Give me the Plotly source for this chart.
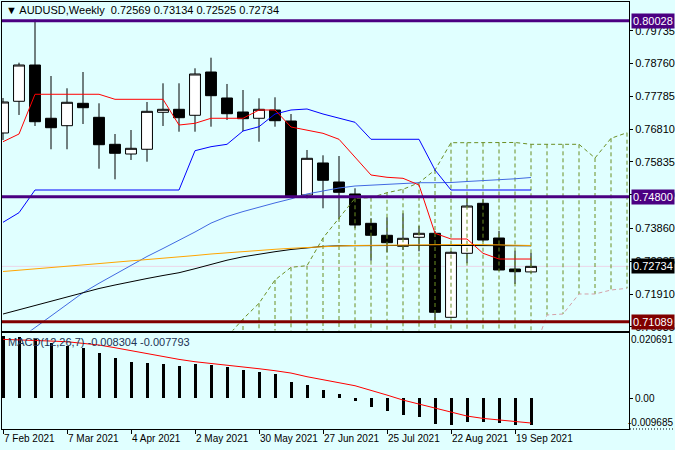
import plotly.graph_objects as go
import pandas as pd

# ---------------- data ----------------
week_start = "2021-02-07"          # first visible weekly bar
n_ahead = 6                         # cloud bars drawn beyond the last candle

opens = [0.76696, 0.77638, 0.78716, 0.77133, 0.76913, 0.77578, 0.77162, 0.76360, 0.76072, 0.76212,
         0.77311, 0.77400, 0.77222, 0.78508, 0.77736, 0.77320, 0.77133, 0.77379, 0.77052, 0.74854,
         0.75805, 0.75240, 0.74884, 0.74013, 0.73657, 0.73330, 0.73597, 0.73716, 0.71220, 0.73122,
         0.74607, 0.73576, 0.72655, 0.72569]
highs = [0.77736, 0.78784, 0.80070, 0.78389, 0.78024, 0.78508, 0.77578, 0.76666, 0.76785, 0.77617,
         0.78172, 0.78172, 0.78618, 0.78933, 0.78152, 0.77973, 0.77727, 0.77756, 0.77260, 0.76191,
         0.76033, 0.76012, 0.75053, 0.74162, 0.74191, 0.74310, 0.73933, 0.73784, 0.73190, 0.74803,
         0.74726, 0.73784, 0.73199, 0.73134]
lows = [0.76488, 0.77231, 0.76904, 0.76212, 0.76212, 0.76963, 0.75635, 0.75320, 0.75894, 0.75843,
        0.76904, 0.76734, 0.76734, 0.76883, 0.77082, 0.76755, 0.76437, 0.76883, 0.74765, 0.74756,
        0.74459, 0.74132, 0.73865, 0.72902, 0.73152, 0.73220, 0.73181, 0.71051, 0.71200, 0.72825,
        0.73466, 0.72596, 0.72210, 0.72525]
closes = [0.77617, 0.78716, 0.77031, 0.76853, 0.77608, 0.77447, 0.76348, 0.76093, 0.76241, 0.77340,
          0.77400, 0.77150, 0.78449, 0.77804, 0.77269, 0.77121, 0.77400, 0.77061, 0.74786, 0.75944,
          0.75291, 0.74934, 0.73963, 0.73657, 0.73437, 0.73567, 0.73716, 0.71369, 0.73152, 0.74527,
          0.73517, 0.72626, 0.72575, 0.72734]

tenkan = [0.76437, 0.76666, 0.77846, 0.77846, 0.77846, 0.77846, 0.77846, 0.77697, 0.77697, 0.77697,
          0.77697, 0.76933, 0.76984, 0.77133, 0.77133, 0.77133, 0.77379, 0.77379, 0.76874, 0.76785,
          0.76687, 0.76509, 0.75983, 0.75448, 0.75380, 0.75350, 0.75151, 0.73716, 0.73547, 0.73547,
          0.73122, 0.72952, 0.72952, 0.72952]
kijun = [0.74043, 0.74328, 0.75002, 0.75002, 0.75002, 0.75002, 0.75002, 0.75002, 0.75002, 0.75002,
         0.75002, 0.75002, 0.76170, 0.76289, 0.76360, 0.76755, 0.76883, 0.77260, 0.77379, 0.77409,
         0.77260, 0.77133, 0.77014, 0.76509, 0.76509, 0.76509, 0.76509, 0.75597, 0.75002, 0.75002,
         0.75002, 0.75002, 0.75002, 0.75002]
ma_blue = [0.70219, 0.70576, 0.70915, 0.71259, 0.71607, 0.71951, 0.72231, 0.72504, 0.72771, 0.73027,
           0.73264, 0.73502, 0.73755, 0.74019, 0.74215, 0.74361, 0.74500, 0.74619, 0.74738, 0.74884,
           0.74973, 0.75062, 0.75121, 0.75151, 0.75181, 0.75204, 0.75219, 0.75219, 0.75225, 0.75255,
           0.75279, 0.75314, 0.75335, 0.75374]
ma_orange = [0.72581, 0.72617, 0.72655, 0.72694, 0.72733, 0.72774, 0.72816, 0.72857, 0.72893, 0.72929,
             0.72967, 0.73012, 0.73056, 0.73101, 0.73140, 0.73178, 0.73211, 0.73241, 0.73270, 0.73300,
             0.73321, 0.73339, 0.73354, 0.73362, 0.73368, 0.73374, 0.73380, 0.73386, 0.73389, 0.73386,
             0.73380, 0.73371, 0.73362, 0.73354]
ma_black = [0.71318, 0.71446, 0.71571, 0.71699, 0.71824, 0.71957, 0.72076, 0.72180, 0.72284, 0.72373,
            0.72462, 0.72545, 0.72664, 0.72795, 0.72917, 0.73018, 0.73101, 0.73169, 0.73235, 0.73285,
            0.73327, 0.73345, 0.73351, 0.73354, 0.73354, 0.73354, 0.73357, 0.73357, 0.73354, 0.73354,
            0.73354, 0.73351, 0.73348, 0.73345]

# Ichimoku cloud, from bar 14 up to 6 bars beyond the last candle
cloud_first = 14
span_a = [0.70635, 0.71170, 0.71636, 0.72329, 0.72706, 0.72753, 0.73576, 0.74171, 0.74756, 0.74774,
          0.74922, 0.75023, 0.75219, 0.75597, 0.76408, 0.76408, 0.76408, 0.76414, 0.76414, 0.76360,
          0.76360, 0.76360, 0.76360, 0.75953, 0.76538, 0.76705]
span_b = [0.69950, 0.69950, 0.69950, 0.69950, 0.69950, 0.69950, 0.69950, 0.69950, 0.69950, 0.69950,
          0.69950, 0.69950, 0.69950, 0.69950, 0.69950, 0.69950, 0.69950, 0.69950, 0.69950, 0.69952,
          0.71289, 0.71318, 0.71913, 0.71913, 0.72031, 0.72082]

macd_hist = [0.01960, 0.01930, 0.01867, 0.01762, 0.01656, 0.01582, 0.01435, 0.01266, 0.01139, 0.01118,
             0.01087, 0.01023, 0.01087, 0.01055, 0.00992, 0.00897, 0.00833, 0.00770, 0.00506, 0.00422,
             0.00264, 0.00137, -0.00074, -0.00264, -0.00390, -0.00527, -0.00580, -0.00802, -0.00833, -0.00738,
             -0.00738, -0.00770, -0.00833, -0.008304]
macd_signal = [0.01867, 0.01857, 0.01835, 0.01814, 0.01793, 0.01741, 0.01688, 0.01603, 0.01508, 0.01403,
               0.01319, 0.01234, 0.01160, 0.01108, 0.01065, 0.01002, 0.00939, 0.00876, 0.00802, 0.00686,
               0.00580, 0.00496, 0.00401, 0.00264, 0.00105, -0.00053, -0.00179, -0.00327, -0.00454, -0.00559,
               -0.00633, -0.00686, -0.00728, -0.007793]

level_prices = [0.80028, 0.74800, 0.71089]
level_colors = ["#4B0082", "#4B0082", "#800000"]
last_price = 0.72734

price_ticks = [0.79735, 0.78760, 0.77785, 0.76810, 0.75835, 0.74860, 0.73860, 0.72885, 0.71910, 0.70935]
date_ticks = ["2021-02-07", "2021-03-07", "2021-04-04", "2021-05-02", "2021-05-30",
              "2021-06-27", "2021-07-25", "2021-08-22", "2021-09-19"]
title_text = "AUDUSD,Weekly\u00a0 0.72569 0.73134 0.72525 0.72734"
macd_text = "MACD(12,26,7) -0.008304 -0.007793"
macd_max, macd_min = 0.020691, -0.009685

# ---------------- layout constants ----------------
W, H = 675, 450
PL, PR, PT, PB = 2, 629, 2, 429          # plot area in px
MAIN_BOTTOM, MACD_TOP = 330.5, 333
FIRST_PX, BAR_PX = 3, 16
BG = "#E0FFFF"
FONT = "Liberation Sans, Arial, sans-serif"
FS = 11
FS_SMALL = 10

n_bars = len(closes)
dates = pd.date_range(week_start, periods=n_bars + n_ahead, freq="7D")
bar_dates = dates[:n_bars]
cloud_dates = dates[cloud_first:]
t0 = pd.Timestamp(week_start)
day_ms = 86400000
x_left = t0 + pd.Timedelta(days=7 * (PL - FIRST_PX) / BAR_PX)
x_right = t0 + pd.Timedelta(days=7 * (PR - FIRST_PX) / BAR_PX)

def px_x(px):
    return (px - PL) / (PR - PL)

def px_y(py):
    return (PB - py) / (PB - PT)

main_dom = [px_y(MAIN_BOTTOM), 1.0]
macd_dom = [0.0, px_y(MACD_TOP)]
# price scale: 0.79735 at y=30.7, 3366 px per unit
y_top = 0.79735 + (30.7 - PT) / 3366
y_bot = 0.79735 - (MAIN_BOTTOM - 30.7) / 3366

fig = go.Figure()

# cloud hatching
hx, hy = [], []
for d, a, b in zip(cloud_dates, span_a, span_b):
    hx += [d, d, None]
    hy += [a, b, None]
fig.add_trace(go.Scatter(x=hx, y=hy, mode="lines",
                         line=dict(color="#6B8E23", width=1, dash="4px,3px"), xaxis="x", yaxis="y"))
fig.add_trace(go.Scatter(x=cloud_dates, y=span_a, mode="lines",
                         line=dict(color="#6B8E23", width=1, dash="4px,3px"), xaxis="x", yaxis="y"))
fig.add_trace(go.Scatter(x=cloud_dates, y=span_b, mode="lines",
                         line=dict(color="#D4A0A8", width=1, dash="4px,3px"), xaxis="x", yaxis="y"))

for vals, col in [(ma_blue, "#4169E1"), (ma_black, "#000000"), (ma_orange, "#FFA500"),
                  (kijun, "#0000FF"), (tenkan, "#FF0000")]:
    fig.add_trace(go.Scatter(x=bar_dates, y=vals, mode="lines",
                             line=dict(color=col, width=1), xaxis="x", yaxis="y"))

fig.add_trace(go.Candlestick(
    x=bar_dates, open=opens, high=highs, low=lows, close=closes,
    increasing=dict(fillcolor="#FFFFFF", line=dict(color="#000000", width=1)),
    decreasing=dict(fillcolor="#000000", line=dict(color="#000000", width=1)),
    whiskerwidth=0, xaxis="x", yaxis="y"))

# MACD
fig.add_trace(go.Bar(x=bar_dates, y=macd_hist, marker=dict(color="#000000", line=dict(width=0)),
                     width=3 / BAR_PX * 7 * day_ms, xaxis="x2", yaxis="y2"))
fig.add_trace(go.Scatter(x=bar_dates, y=macd_signal, mode="lines",
                         line=dict(color="#FF0000", width=1), xaxis="x2", yaxis="y2"))

shapes = []
shapes.append(dict(type="line", xref="x", yref="y", x0=x_left, x1=x_right, y0=last_price, y1=last_price,
                   line=dict(color="#EBD5E8", width=1), layer="below"))
for p, c in zip(level_prices, level_colors):
    shapes.append(dict(type="line", xref="x", yref="y", x0=x_left, x1=x_right, y0=p, y1=p,
                       line=dict(color=c, width=3), layer="above"))
shapes.append(dict(type="line", xref="paper", yref="paper", x0=px_x(PR + 1), x1=px_x(W), y0=0, y1=0,
                   line=dict(color="#000000", width=1, dash="1px,2px")))

annotations = []
for p, c in zip(level_prices + [last_price], level_colors + ["#000000"]):
    annotations.append(dict(xref="paper", yref="y", x=px_x(PR + 2), y=p, xanchor="left", yanchor="middle",
                            text=f"{p:.5f}", showarrow=False, bgcolor=c, borderpad=1,
                            font=dict(family=FONT, size=FS, color="#FFFFFF")))
annotations.append(dict(xref="paper", yref="paper", x=px_x(4), y=px_y(10), xanchor="left", yanchor="middle",
                        text="\u25bc " + title_text, showarrow=False,
                        font=dict(family=FONT, size=FS, color="#000000")))
annotations.append(dict(xref="paper", yref="paper", x=px_x(6), y=px_y(342), xanchor="left", yanchor="middle",
                        text=macd_text, showarrow=False,
                        font=dict(family=FONT, size=FS, color="#223355")))
annotations.append(dict(xref="paper", yref="paper", x=px_x(W - 1), y=px_y(339), xanchor="right", yanchor="middle",
                        text=f"{macd_max:.6f}", showarrow=False, borderpad=0,
                        font=dict(family=FONT, size=FS_SMALL, color="#000000")))
annotations.append(dict(xref="paper", yref="paper", x=px_x(W - 1), y=px_y(422), xanchor="right", yanchor="middle",
                        text=f"{macd_min:.6f}", showarrow=False, borderpad=0,
                        font=dict(family=FONT, size=FS_SMALL, color="#000000")))

axis_common = dict(showgrid=False, zeroline=False, showline=True, linecolor="#000000", linewidth=1,
                   mirror=True, automargin=False, tickangle=0,
                   tickfont=dict(family=FONT, size=FS, color="#000000"))

fig.update_layout(
    width=W, height=H,
    margin=dict(l=PL, r=W - PR, t=PT, b=H - PB, pad=0, autoexpand=False),
    paper_bgcolor=BG, plot_bgcolor=BG,
    font=dict(family=FONT, size=FS),
    showlegend=False, boxgap=0.32, boxgroupgap=0, bargap=0,
    shapes=shapes, annotations=annotations,
    xaxis=dict(axis_common, range=[x_left, x_right], domain=[0, 1], anchor="y", type="date",
               showticklabels=False, ticks="", rangeslider=dict(visible=False)),
    yaxis=dict(axis_common, range=[y_bot, y_top], domain=main_dom, anchor="x", side="right",
               tickvals=price_ticks, tickformat=".5f", ticks="outside", ticklen=3, tickcolor="#000000"),
    xaxis2=dict(axis_common, range=[x_left, x_right], domain=[0, 1], anchor="y2", type="date",
                tickvals=date_ticks, tickformat="%-d %b %Y", ticks="outside", ticklen=4, tickcolor="#000000",
                ticklabelposition="outside right", ticklabelstandoff=0,
                tickfont=dict(family=FONT, size=FS_SMALL, color="#000000")),
    yaxis2=dict(axis_common, range=[macd_min, macd_max], domain=macd_dom, anchor="x2", side="right",
                tickvals=[0], ticktext=["0.00"], ticks="outside", ticklen=3, tickcolor="#000000",
                tickfont=dict(family=FONT, size=FS_SMALL, color="#000000")),
)

fig.write_html("out.html", config={"displayModeBar": False},
               post_script="document.body.style.margin='0';document.body.style.overflow='hidden';"
                           "document.body.style.background='#E0FFFF';")
